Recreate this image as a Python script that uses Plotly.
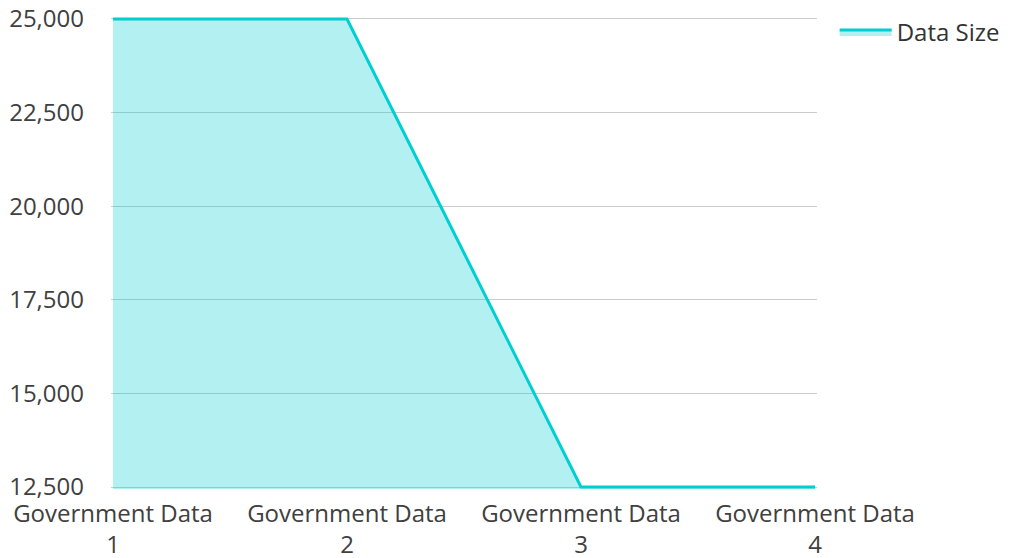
import plotly.graph_objects as go

categories = ["Government Data<br>1", "Government Data<br>2", "Government Data<br>3", "Government Data<br>4"]
data_size = [25000, 25000, 12500, 12500]
y_ticks = [12500, 15000, 17500, 20000, 22500, 25000]
series_name = "Data Size"

xpos = list(range(len(categories)))

fig = go.Figure()
fig.add_trace(go.Scatter(
    x=xpos, y=data_size, name=series_name, mode="lines",
    line=dict(color="#00CED1", width=3),
    fill="tozeroy", fillcolor="rgba(0,206,209,0.3)",
    showlegend=True,
))

font = dict(family="Open Sans", size=24, color="#404040")
fig.update_layout(
    width=1010, height=558,
    margin=dict(l=111, r=193, t=17, b=69, autoexpand=False),
    paper_bgcolor="white", plot_bgcolor="white",
    font=font,
    showlegend=True,
    legend=dict(x=1.025, y=1.015, xanchor="left", yanchor="top",
                font=dict(family="Open Sans", size=24, color="#333333"),
                bgcolor="rgba(0,0,0,0)", itemwidth=52),
    xaxis=dict(
        range=[-0.0085, 3.0085], tickvals=xpos, ticktext=categories,
        showgrid=False, zeroline=False, showline=False, ticks="",
        ticklabelstandoff=8, automargin=False,
    ),
    yaxis=dict(
        range=[12447, 25053], tickvals=y_ticks, tickformat=",",
        showgrid=True, gridcolor="#cccccc", gridwidth=1,
        zeroline=False, showline=False, ticks="", ticklabelstandoff=26,
        automargin=False,
    ),
)
fig.write_html("out.html", config={"displayModeBar": False},
               post_script="document.body.style.margin='0';document.body.style.overflow='hidden';")
